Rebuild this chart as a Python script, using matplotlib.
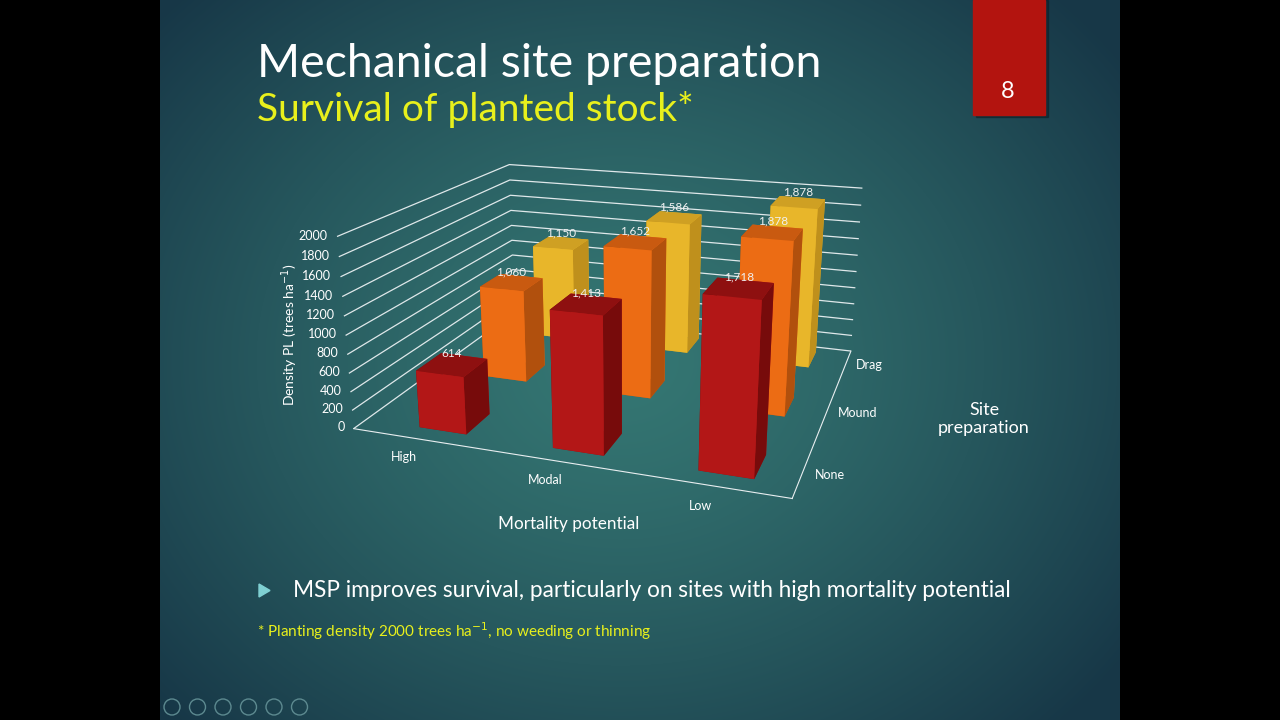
import numpy as np
import matplotlib.pyplot as plt
from matplotlib.patches import Rectangle, Polygon
from mpl_toolkits.mplot3d import proj3d

plt.rcParams['font.family'] = ['Lato', 'DejaVu Sans']

# data
mortality = ['High', 'Modal', 'Low']
site_prep = ['None', 'Mound', 'Drag']
none_vals = [614, 1413, 1718]
mound_vals = [1060, 1652, 1878]
drag_vals = [1150, 1586, 1878]
z_ticks = list(range(0, 2001, 200))

# face colours per series: front, top, side
face_cols = {
    'None': ('#b31717', '#8e1010', '#770b0b'),
    'Mound': ('#ec6c14', '#c95a10', '#b1500d'),
    'Drag': ('#e8b62a', '#cfa023', '#bf901c'),
}

fig = plt.figure(figsize=(12.8, 7.2), dpi=100)
fig.patch.set_facecolor('black')

# slide background (radial teal gradient)
bg = fig.add_axes([160 / 1280, 0, 960 / 1280, 1])
yy, xx = np.mgrid[0:720, 0:960]
r = np.sqrt(((xx - 460) / 620.0) ** 2 + ((yy - 360) / 520.0) ** 2)
c_in = np.array([0x35, 0x77, 0x73]) / 255
c_out = np.array([0x17, 0x37, 0x47]) / 255
t = np.clip(r, 0, 1)[..., None] ** 1.3
img = c_in * (1 - t) + c_out * t
bg.imshow(img, aspect='auto', extent=[0, 960, 720, 0])
bg.set_xlim(0, 960)
bg.set_ylim(720, 0)
bg.axis('off')

# page number box
bg.add_patch(Rectangle((816, 0), 72, 117, color='#0b1e26', alpha=0.5, zorder=2))
bg.add_patch(Rectangle((813, 0), 72, 115, color='#b3140f', zorder=3))
bg.text(848, 91, '8', color='white', fontsize=17, ha='center', va='center', zorder=4)

# titles
bg.text(97, 77, 'Mechanical site preparation', color='white', fontsize=33.5,
        ha='left', va='baseline')
bg.text(97, 121, 'Survival of planted stock*', color='#e8f01c', fontsize=28,
        ha='left', va='baseline')

# bullet and footnote
bg.add_patch(Polygon([[99, 584], [99, 597], [110, 590.5]], color='#7fd0d2'))
bg.text(133, 597, 'MSP improves survival, particularly on sites with high mortality potential',
        color='white', fontsize=16.3, ha='left', va='baseline')
bg.text(97, 637, '* Planting density 2000 trees ha$^{-1}$, no weeding or thinning',
        color='#e8f01c', fontsize=11, ha='left', va='baseline')

# slide nav icons
for i in range(6):
    bg.add_patch(plt.Circle((12 + i * 25.5, 707), 8, fill=False, ec='#5d8a90', lw=1))

# axis titles
bg.text(130, 335, 'Density PL (trees ha$^{-1}$)', color='white', fontsize=10,
        rotation=90, ha='center', va='center')
bg.text(409, 524, 'Mortality potential', color='white', fontsize=12.3,
        ha='center', va='center')
bg.text(824, 419, 'Site\npreparation', color='white', fontsize=13,
        ha='center', va='center', linespacing=1.1)

# 3D chart
ax = fig.add_axes([0.158, 0.183, 0.648, 0.778], projection='3d')
ax.set_facecolor((0, 0, 0, 0))
ax.patch.set_alpha(0)
ax.set_proj_type('persp', focal_length=0.35)
ax.view_init(elev=18, azim=-71)
ax.set_box_aspect((3.45, 3.0, 1.55))

xmin, xmax = -0.6, 2.45
ymin, ymax = -0.35, 2.3
dx, dy = 0.36, 0.36
series = [('None', none_vals), ('Mound', mound_vals), ('Drag', drag_vals)]
for j, (name, vals) in reversed(list(enumerate(series))):
    front, top, side = face_cols[name]
    for i, v in enumerate(vals):
        # face order: bottom, top, front, back, left, right
        cols = [top, top, front, front, side, side]
        ax.bar3d(i - dx / 2, j - dy / 2, 0, dx, dy, v, color=cols, shade=False,
                 edgecolor='none')

ax.set_xlim(xmin, xmax)
ax.set_ylim(ymin, ymax)
ax.set_zlim(0, 2000)
ax.set_xticks(range(3))
ax.set_yticks(range(3))
ax.set_zticks(z_ticks)
ax.set_xticklabels([])
ax.set_yticklabels([])
ax.set_zticklabels([])

for a in (ax.xaxis, ax.yaxis, ax.zaxis):
    a.set_pane_color((0, 0, 0, 0))
    a.pane.set_edgecolor('none')
    a._axinfo['tick']['inward_factor'] = 0
    a._axinfo['tick']['outward_factor'] = 0
ax.xaxis.line.set_color('#e8eef0')
ax.yaxis.line.set_color('#e8eef0')
ax.zaxis.line.set_color((0, 0, 0, 0))
ax.xaxis._axinfo['grid']['linewidth'] = 0
ax.yaxis._axinfo['grid']['linewidth'] = 0
ax.zaxis._axinfo['grid']['color'] = '#dfe8ea'
ax.zaxis._axinfo['grid']['linewidth'] = 0.9

# labels placed at projected 3D positions
fig.canvas.draw()
M = ax.get_proj()


def label(x, y, z, s, color='white', **kw):
    px, py, _ = proj3d.proj_transform(x, y, z, M)
    ax.text2D(px, py, s, transform=ax.transData, color=color, zorder=100, **kw)


for j, (name, vals) in enumerate(series):
    for i, v in enumerate(vals):
        label(i, j, v + 60, f'{v:,}', fontsize=8.5, ha='center', va='bottom',
              color='#f0f0f0')
for z in z_ticks:
    label(xmin - 0.07, ymin, z, str(z), fontsize=9, ha='right', va='center')
for i, s in enumerate(mortality):
    label(i - 0.05, ymin - 0.27, 0, s, fontsize=9, ha='center', va='center')
for j, s in enumerate(site_prep):
    label(xmax + 0.08, j, 0, s, fontsize=9, ha='left', va='center')

fig.savefig('out.png', dpi=100, facecolor=fig.get_facecolor())
